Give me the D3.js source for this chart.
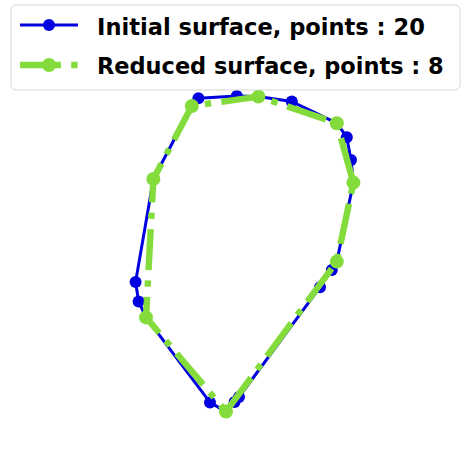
<!DOCTYPE html>
<html><head><meta charset="utf-8">
<script src="https://cdn.jsdelivr.net/npm/d3@7"></script>
<style>html,body{margin:0;padding:0;background:#fff}svg{display:block}</style>
</head><body>
<script>
// Initial surface (20 points), closed polygon
const initialX = [4.55, 3.75, 0.55, 0.18, 0.03, 0.92, 2.84, 3.17, 5.09, 6.17, 7.84, 10.09, 10.59, 10.80, 10.92, 10.09, 9.84, 9.25, 5.20, 4.98];
const initialY = [0.02, 0.48, 4.73, 5.53, 6.50, 11.65, 15.30, 15.69, 15.80, 15.77, 15.52, 14.44, 13.74, 12.60, 11.47, 7.52, 7.10, 6.24, 0.75, 0.50];
// Reduced surface (8 points), closed polygon
const reducedX = [4.55, 0.55, 0.92, 2.84, 6.17, 10.09, 10.92, 10.09];
const reducedY = [0.02, 4.73, 11.65, 15.30, 15.77, 14.44, 11.47, 7.52];
const legendLabels = ["Initial surface, points : 20", "Reduced surface, points : 8"];

const W = 474, H = 465;
const blue = "#0000e0", green = "#84dc3c";
const svg = d3.select("body").append("svg").attr("width", W).attr("height", H);

const k = 20;
const x = d3.scaleLinear().domain([0, 11]).range([135, 135 + 11 * k]);
const y = d3.scaleLinear().domain([0, 16]).range([412, 412 - 16 * k]);

const close = (xs, ys) => { const p = xs.map((v, i) => [v, ys[i]]); p.push(p[0]); return p; };
const line = d3.line().x(d => x(d[0])).y(d => y(d[1]));

const initPts = close(initialX, initialY);
const redPts = close(reducedX, reducedY);

const lw = 6.4;
const dash = [6.4 * lw, 1.6 * lw, 1 * lw, 1.6 * lw].join(",");

// initial
svg.append("path").attr("d", line(initPts)).attr("fill", "none")
  .attr("stroke", blue).attr("stroke-width", 3).attr("stroke-linejoin", "round");
svg.selectAll("circle.init").data(initPts.slice(0, -1)).join("circle").attr("class", "init")
  .attr("cx", d => x(d[0])).attr("cy", d => y(d[1])).attr("r", 6).attr("fill", blue);

// reduced
svg.append("path").attr("d", line(redPts)).attr("fill", "none")
  .attr("stroke", green).attr("stroke-width", lw).attr("stroke-dasharray", dash)
  .attr("stroke-dashoffset", -35.3).attr("stroke-linecap", "butt").attr("stroke-linejoin", "round");
svg.selectAll("circle.red").data(redPts.slice(0, -1)).join("circle").attr("class", "red")
  .attr("cx", d => x(d[0])).attr("cy", d => y(d[1])).attr("r", 7).attr("fill", green);

// legend
const lg = svg.append("g");
lg.append("rect").attr("x", 11).attr("y", 5).attr("width", 449).attr("height", 85).attr("rx", 5)
  .attr("fill", "#fff").attr("stroke", "#d6d6d6").attr("stroke-width", 1);
const rows = [
  {label: legendLabels[0], color: blue, w: 3, r: 6, dash: null, yy: 25, tw: 328, by: 34.5},
  {label: legendLabels[1], color: green, w: lw, r: 7, dash: dash, yy: 65, tw: 347, by: 73.5}
];
rows.forEach(rw => {
  const l = lg.append("line").attr("x1", 20).attr("x2", 78).attr("y1", rw.yy).attr("y2", rw.yy)
    .attr("stroke", rw.color).attr("stroke-width", rw.w);
  if (rw.dash) l.attr("stroke-dasharray", rw.dash);
  lg.append("circle").attr("cx", 49).attr("cy", rw.yy).attr("r", rw.r).attr("fill", rw.color);
  const t = lg.append("text").attr("x", 97).attr("y", rw.by).text(rw.label)
    .attr("font-family", "DejaVu Sans, sans-serif").attr("font-weight", "bold")
    .attr("font-size", 23).attr("fill", "#000");
  const m = t.node().getComputedTextLength();
  t.attr("font-size", 23 * rw.tw / m);
});
</script>
</body></html>
